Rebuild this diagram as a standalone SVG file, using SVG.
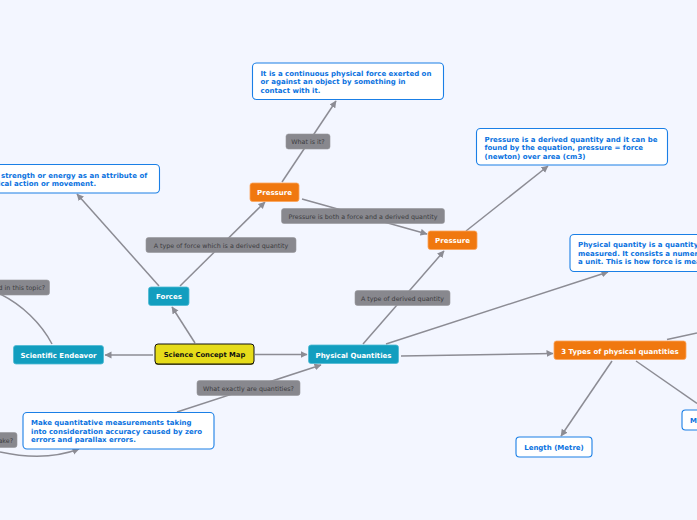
<svg xmlns="http://www.w3.org/2000/svg" width="697" height="520" viewBox="0 0 697 520">
<style>
text{font-family:"DejaVu Sans",Verdana,sans-serif}
.c{fill:none;stroke:#8c8c94;stroke-width:1.5}
.a{marker-end:url(#ah)}
.lb rect{fill:#88888e;stroke:#97979c;stroke-width:.6}
.lb text{font-size:6.35px;fill:#3c3c40;text-anchor:middle}
.t rect{fill:#129ebf;stroke:#4fbad3;stroke-width:.8}
.o rect{fill:#f0780f;stroke:#fba55c;stroke-width:.8}
.t text,.o text{font-size:7px;font-weight:bold;fill:#fff;text-anchor:middle}
.w rect{fill:#fff;stroke:#1a7fe6;stroke-width:1.1}
.w text{font-size:7px;font-weight:bold;fill:#0a72e0}
</style>
<defs><marker id="ah" markerWidth="8" markerHeight="8" refX="6.5" refY="3.5" orient="auto" markerUnits="userSpaceOnUse"><path d="M0 0L7 3.5L0 7z" fill="#8c8c94"/></marker></defs>
<rect width="697" height="520" fill="#f3f6ff"/>
<g id="connectors">
<path class="c a" d="M195 343L172 307"/>
<path class="c a" d="M153 355H105"/>
<path class="c a" d="M255 354.5H307"/>
<path class="c a" d="M177 412L321 365"/>
<path class="c a" d="M159 286L77 194"/>
<path class="c a" d="M180 286L265 202"/>
<path class="c" d="M52 344C41 323 22 305 0 294"/>
<path class="c a" d="M0 452C28 458 55 458 79 449"/>
<path class="c a" d="M282 182L336 101"/>
<path class="c a" d="M302 199L427 234"/>
<path class="c a" d="M363 344L444 251"/>
<path class="c a" d="M466 231L548 166"/>
<path class="c a" d="M386 344L608 272"/>
<path class="c a" d="M401 356L553 353.5"/>
<path class="c a" d="M612 361L561 436"/>
<path class="c" d="M636 361L697 403.5"/>
<path class="c" d="M667 339.5L697 333"/>
</g>
<g id="central"><rect x="155" y="345" width="99" height="20" rx="3" fill="#77722a"/><rect x="155" y="344" width="99" height="20" rx="3" fill="#e6dc1a" stroke="#111" stroke-width="1"/><text x="204.500" y="357" font-size="6.8" font-weight="bold" text-anchor="middle" fill="#111">Science Concept Map</text></g>
<g id="forces" class="t"><rect x="148.500" y="287" width="40.500" height="18.500" rx="2.500"/><text x="169" y="299">Forces</text></g>
<g id="endeavor" class="t"><rect x="13.500" y="345.500" width="90" height="18.500" rx="2.500"/><text x="58.500" y="358">Scientific Endeavor</text></g>
<g id="quantities" class="t"><rect x="308.500" y="345" width="90" height="18.500" rx="2.500"/><text x="353.500" y="357.500">Physical Quantities</text></g>
<g id="pressure1" class="o"><rect x="250" y="183" width="49" height="18.500" rx="2.500"/><text x="274.500" y="195">Pressure</text></g>
<g id="pressure2" class="o"><rect x="428" y="231" width="49" height="18.500" rx="2.500"/><text x="452.500" y="243">Pressure</text></g>
<g id="types" class="o"><rect x="554" y="341" width="132" height="18.500" rx="2.500"/><text x="620" y="353.500">3 Types of physical quantities</text></g>
<g id="length" class="w"><rect x="516" y="437" width="76" height="20" rx="3.500"/><text x="554" y="450" text-anchor="middle">Length (Metre)</text></g>
<g id="mass" class="w"><rect x="682" y="410" width="40" height="20" rx="3.500"/><text x="690" y="423">M</text></g>
<g id="def-continuous" class="w"><rect x="252.500" y="63" width="191" height="36.500" rx="4"/><text x="260.500" y="76">It is a continuous physical force exerted on</text><text x="260.500" y="84">or against an object by something in</text><text x="260.500" y="93">contact with it.</text></g>
<g id="def-derived" class="w"><rect x="476.500" y="128.500" width="191" height="36.500" rx="4"/><text x="484.500" y="141.500">Pressure is a derived quantity and it can be</text><text x="484.500" y="150">found by the equation, pressure = force</text><text x="484.500" y="158.500">(newton) over area (cm3)</text></g>
<g id="def-strength" class="w"><rect x="-40" y="164.500" width="199.500" height="28.500" rx="4"/><text x="1" y="178">strength or energy as an attribute of</text><text x="-2" y="186">ical action or movement.</text></g>
<g id="def-quantity" class="w"><rect x="570" y="234.500" width="191" height="37" rx="4"/><text x="578" y="247">Physical quantity is a quantity</text><text x="578" y="256">measured. It consists a numeri</text><text x="578" y="264">a unit. This is how force is meas</text></g>
<g id="def-measure" class="w"><rect x="23" y="412.500" width="191" height="36.500" rx="4"/><text x="31" y="425">Make quantitative measurements taking</text><text x="31" y="433.500">into consideration accuracy caused by zero</text><text x="31" y="442">errors and parallax errors.</text></g>
<g id="l-what" class="lb"><rect x="286" y="134" width="44" height="15" rx="2.500"/><text x="308" y="144">What is it?</text></g>
<g id="l-both" class="lb"><rect x="281.500" y="208.500" width="163" height="15" rx="2.500"/><text x="363" y="218.500">Pressure is both a force and a derived quantity</text></g>
<g id="l-force" class="lb"><rect x="146" y="237.500" width="150" height="15" rx="2.500"/><text x="221" y="247.500">A type of force which is a derived quantity</text></g>
<g id="l-derived" class="lb"><rect x="355" y="290.500" width="95" height="15" rx="2.500"/><text x="402.500" y="300.500">A type of derived quantity</text></g>
<g id="l-exactly" class="lb"><rect x="197" y="380.500" width="103" height="15" rx="2.500"/><text x="248.500" y="390.500">What exactly are quantities?</text></g>
<g id="l-topic" class="lb"><rect x="-30" y="280" width="79.500" height="15" rx="2.500"/><text x="45" y="290" style="text-anchor:end">d in this topic?</text></g>
<g id="l-make" class="lb"><rect x="-20" y="432.500" width="37" height="15" rx="2.500"/><text x="13" y="442.500" style="text-anchor:end">ake?</text></g>
</svg>
